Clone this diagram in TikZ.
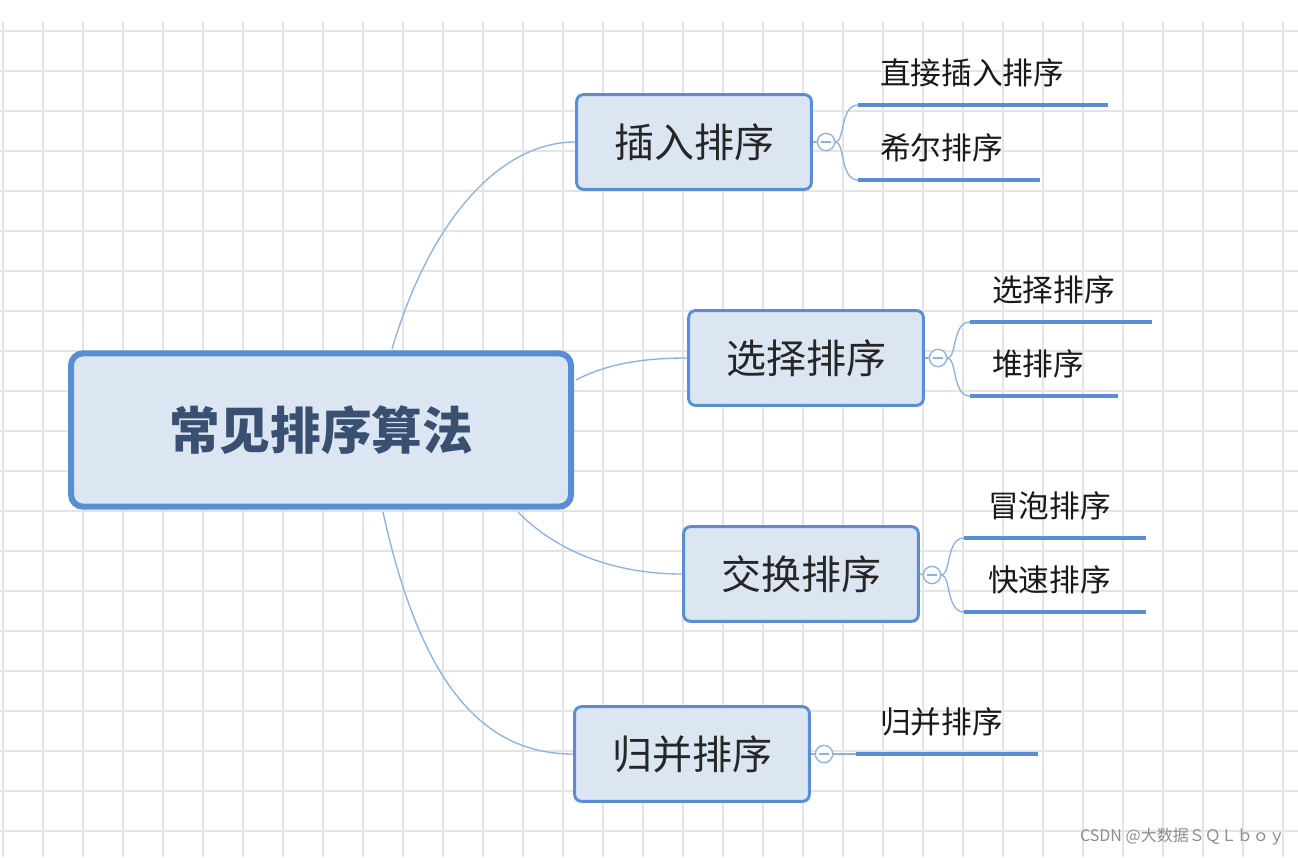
\documentclass[tikz,border=0pt]{standalone}
\usepackage{fontspec}
\setmainfont{Noto Sans CJK SC}
\begin{document}
\begin{tikzpicture}[x=0.75pt,y=-0.75pt,
  box/.style={draw=boxb,fill=boxf,rounded corners=5pt,line width=2.2pt,minimum width=176pt,minimum height=71pt,inner sep=0pt,font=\fontsize{30}{30}\selectfont,text=black!85},
  leaf/.style={anchor=west,inner sep=0pt,font=\fontsize{23}{23}\selectfont,text=black!90},
  uline/.style={draw=boxb,line width=3pt},
  br/.style={draw=lineb,line width=1pt},
  knob/.style={circle,draw=lineb,fill=white,line width=1pt,minimum size=13pt,inner sep=0pt}]
\definecolor{boxb}{HTML}{5A8ED4}
\definecolor{boxf}{HTML}{DCE6F2}
\definecolor{lineb}{HTML}{8DB2E2}
\definecolor{gridc}{HTML}{E4E4E4}
\definecolor{maintxt}{HTML}{3A5070}
\useasboundingbox (0,0) rectangle (1298,857);
\fill[white] (0,0) rectangle (1298,857);
\foreach \i in {0,...,32} {\draw[gridc,line width=2pt] (3+40*\i,22) -- (3+40*\i,857);}
\foreach \j in {0,...,20} {\draw[gridc,line width=2pt] (0,31+40*\j) -- (1298,31+40*\j);}
\node[box,line width=4.5pt,rounded corners=9pt,minimum width=375pt,minimum height=115pt,font=\fontsize{38}{38}\selectfont\bfseries,text=maintxt] (m) at (321,430) {常见排序算法};
\node[box] (a) at (694,142) {插入排序};
\node[box] (b) at (806,358) {选择排序};
\node[box] (c) at (801,574) {交换排序};
\node[box] (d) at (692,754) {归并排序};
\coordinate (m1) at (392,349);
\coordinate (m2) at (576,380);
\coordinate (m3) at (518,512);
\coordinate (m4) at (383,512);
\draw[br] (m1) .. controls (430,220) and (500,142) .. (a.west);
\draw[br] (m2) .. controls (610,362) and (650,358) .. (b.west);
\draw[br] (m3) .. controls (560,555) and (620,574) .. (c.west);
\draw[br] (m4) .. controls (420,680) and (480,754) .. (d.west);
\foreach \n/\kx/\ky in {a/826/142,b/938/358,c/932/575,d/824/754}{
  \draw[br] (\n.east) -- (\kx,\ky);
}
\node[knob] (ka) at (826,142) {};
\node[knob] (kb) at (938,358) {};
\node[knob] (kc) at (932,575) {};
\node[knob] (kd) at (824,754) {};
\foreach \k in {ka,kb,kc,kd}{\draw[lineb,line width=1pt] ([xshift=-3.5pt]\k.center) -- ([xshift=3.5pt]\k.center);}
\coordinate (a1) at (858,105); \coordinate (a1e) at (1108,105);
\coordinate (a2) at (858,180); \coordinate (a2e) at (1040,180);
\draw[br] (ka.east) .. controls (845,142) and (840,105) .. (a1);
\draw[br] (ka.east) .. controls (845,142) and (840,180) .. (a2);
\draw[uline] (a1) -- (a1e); \draw[uline] (a2) -- (a2e);
\node[leaf] (t1) at (880,73) {直接插入排序};
\node[leaf] (t2) at (880,148) {希尔排序};
\coordinate (b1) at (970,322); \coordinate (b1e) at (1152,322);
\coordinate (b2) at (970,396); \coordinate (b2e) at (1118,396);
\draw[br] (kb.east) .. controls (957,358) and (952,322) .. (b1);
\draw[br] (kb.east) .. controls (957,358) and (952,396) .. (b2);
\draw[uline] (b1) -- (b1e); \draw[uline] (b2) -- (b2e);
\node[leaf] (t3) at (992,290) {选择排序};
\node[leaf] (t4) at (992,364) {堆排序};
\coordinate (c1) at (964,538); \coordinate (c1e) at (1146,538);
\coordinate (c2) at (964,612); \coordinate (c2e) at (1146,612);
\draw[br] (kc.east) .. controls (951,575) and (946,538) .. (c1);
\draw[br] (kc.east) .. controls (951,575) and (946,612) .. (c2);
\draw[uline] (c1) -- (c1e); \draw[uline] (c2) -- (c2e);
\node[leaf] (t5) at (988,506) {冒泡排序};
\node[leaf] (t6) at (988,580) {快速排序};
\coordinate (d1) at (856,754); \coordinate (d1e) at (1038,754);
\draw[br] (kd.east) -- (d1);
\draw[uline] (d1) -- (d1e);
\node[leaf] (t7) at (880,722) {归并排序};
\node[anchor=east,inner sep=0pt,font=\fontsize{12}{12}\selectfont,text=black!45] (wm) at (1285,837) {CSDN @大数据ＳＱＬｂｏｙ};
\end{tikzpicture}
\end{document}
